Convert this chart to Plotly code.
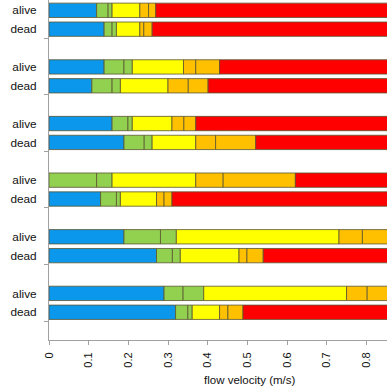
import plotly.graph_objects as go
import numpy as np

# bars top to bottom
status = ["alive", "dead"] * 6
# cumulative ends of each class (m/s): blue, green1, green2, yellow, orange1, orange2, red
blue_end    = [0.120, 0.139, 0.139, 0.108, 0.159, 0.189, 0.000, 0.130, 0.189, 0.271, 0.290, 0.319]
green1_end  = [0.149, 0.159, 0.189, 0.159, 0.199, 0.240, 0.120, 0.170, 0.281, 0.311, 0.338, 0.350]
green2_end  = [0.159, 0.170, 0.210, 0.180, 0.210, 0.260, 0.159, 0.180, 0.321, 0.331, 0.390, 0.361]
yellow_end  = [0.229, 0.229, 0.339, 0.300, 0.310, 0.370, 0.370, 0.271, 0.731, 0.479, 0.750, 0.430]
orange1_end = [0.251, 0.239, 0.370, 0.351, 0.340, 0.420, 0.439, 0.290, 0.790, 0.499, 0.802, 0.451]
orange2_end = [0.269, 0.260, 0.430, 0.401, 0.370, 0.521, 0.621, 0.310, 0.900, 0.540, 0.900, 0.489]
red_end     = [0.900] * 12

ends = [blue_end, green1_end, green2_end, yellow_end, orange1_end, orange2_end, red_end]
colors = ["#0A97EC", "#92D050", "#92D050", "#FFFF00", "#FFC000", "#FFC000", "#FF0000"]

ypos = [3 * (i // 2) + (i % 2) for i in range(12)]

fig = go.Figure()
prev = np.zeros(12)
for e, c in zip(ends, colors):
    e = np.array(e)
    fig.add_trace(go.Bar(
        x=e - prev, y=ypos, base=prev, orientation="h", width=0.76,
        marker=dict(color=c, line=dict(color="#5b5530", width=0.8)),
        showlegend=False, hoverinfo="skip"))
    prev = e

fig.update_layout(
    barmode="overlay",
    width=387, height=387,
    margin=dict(l=49, r=0, t=0, b=47),
    plot_bgcolor="white", paper_bgcolor="white",
    font=dict(family="Liberation Sans, Arial", size=12, color="#111"),
    xaxis=dict(range=[0, 0.852], tickvals=[0, 0.1, 0.2, 0.3, 0.4, 0.5, 0.6, 0.7, 0.8],
               ticktext=["0", "0.1", "0.2", "0.3", "0.4", "0.5", "0.6", "0.7", "0.8"],
               tickangle=-90, showline=True, linecolor="#a0a0a0", linewidth=1,
               ticks="outside", ticklen=4, tickcolor="#a0a0a0", showgrid=False,
               zeroline=False, fixedrange=True, tickfont=dict(size=11),
               ticklabelstandoff=3),
    yaxis=dict(range=[17.47, -0.546], tickvals=ypos, ticktext=status, ticks="",
               showline=True, linecolor="#a0a0a0", linewidth=1, showgrid=False,
               zeroline=False, ticklabelstandoff=9, tickfont=dict(size=11.8),
               minor=dict(ticks="outside", tick0=1.47, dtick=3, ticklen=4,
                          tickcolor="#a0a0a0", showgrid=False)),
    annotations=[dict(text="flow velocity (m/s)", xref="paper", yref="paper",
                      x=0.595, y=-0.117, xanchor="center", yanchor="middle",
                      showarrow=False, font=dict(size=11.5, color="#111"))],
)
fig.write_html("out.html", config={"displayModeBar": False},
               post_script="document.body.style.margin='0';document.body.style.overflow='hidden';")
